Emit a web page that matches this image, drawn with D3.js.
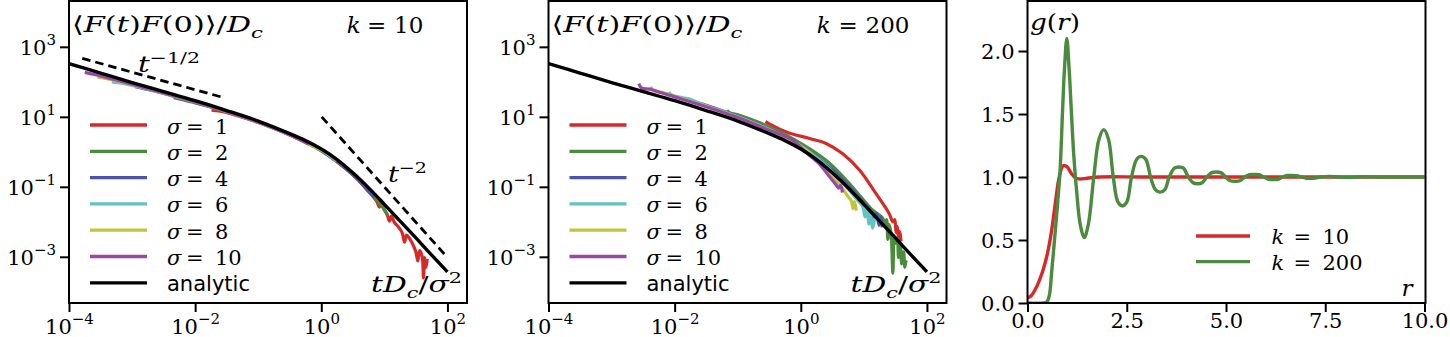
<!DOCTYPE html>
<html>
<head>
<meta charset="utf-8">
<script src="https://cdn.jsdelivr.net/npm/d3@7"></script>
<style>
	body { margin: 0; background: #fff; }
	svg { display: block; }
	text { font-family: "DejaVu Serif", serif; fill: #000; }
	text.sans { font-family: "DejaVu Sans", sans-serif; }
</style>
</head>
<body>
<svg width="1450" height="337"></svg>
<script>
// ---- data (log10 exponents for the two log-log panels) ----
const xTickExp = [-4, -2, 0, 2];
const yTickExp = [-3, -1, 1, 3];
const rTicks = [0, 2.5, 5, 7.5, 10];
const gTicks = [0, 0.5, 1, 1.5, 2];

const sigmaLabels = ["1", "2", "4", "6", "8", "10"];
const sigmaColors = ["#d62a28", "#4a8b3e", "#4a55a8", "#62c3c3", "#c3c33c", "#9a48a6"];

// [log10(t Dc/sigma^2), log10(<F(t)F(0)>/Dc)]
const analytic = [[-4, 2.52], [-3.5, 2.25], [-3, 1.98], [-2.5, 1.72], [-2, 1.46], [-1.5, 1.18], [-1, 0.88], [-0.5, 0.52], [-0.25, 0.32], [0, 0.08], [0.25, -0.22], [0.5, -0.6], [0.75, -1.03], [1, -1.5], [1.25, -1.98], [1.5, -2.46], [1.75, -2.95], [2, -3.43]];

const guideHalf = [[-3.79, 2.67], [-1.55, 1.55]];
const guideTwo = [[0.006, 1.0], [1.99, -3.0]];

const k10s1 = [[-1.74, 1.19], [-1.6, 1.16], [-1.4, 1.07], [-1.2, 0.96], [-1, 0.84], [-0.5, 0.48], [0, 0.03], [0.5, -0.66], [0.75, -1.14], [0.88, -1.42], [0.92, -1.58], [0.95, -1.48], [1.0, -1.66], [1.05, -1.82], [1.08, -1.98], [1.11, -1.84], [1.16, -2.02], [1.22, -2.14], [1.28, -2.3], [1.32, -2.58], [1.35, -2.38], [1.4, -2.48], [1.45, -2.64], [1.5, -2.86], [1.53, -3.12], [1.56, -2.82], [1.6, -3.0], [1.62, -3.6], [1.64, -3.02], [1.66, -3.3], [1.68, -3.06]];
const k10s2 = [[-2.34, 1.55], [-2.2, 1.49], [-2, 1.4], [-1.8, 1.3], [-1.5, 1.14], [-1, 0.85], [-0.5, 0.49], [0, 0.04], [0.5, -0.64], [0.75, -1.1], [0.9, -1.42], [1.0, -1.65], [1.05, -1.8]];
const k10s4 = [[-2.95, 1.86], [-2.8, 1.8], [-2.6, 1.72], [-2.4, 1.62], [-2, 1.42], [-1.5, 1.15], [-1, 0.85], [-0.5, 0.49], [0, 0.05], [0.3, -0.33], [0.6, -0.83], [0.85, -1.3]];
const k10s6 = [[-3.32, 2.0], [-3.15, 1.96], [-3, 1.9], [-2.8, 1.81], [-2.5, 1.67], [-2, 1.43], [-1.5, 1.15], [-1, 0.85], [-0.5, 0.49], [0, 0.05], [0.24, -0.26]];
const k10s8 = [[-3.55, 2.14], [-3.4, 2.09], [-3.2, 2.01], [-3, 1.92], [-2.5, 1.68], [-2, 1.43], [-1.5, 1.15], [-1, 0.85], [-0.5, 0.49], [0, 0.05]];
const k10s10 = [[-3.75, 2.27], [-3.6, 2.21], [-3.4, 2.12], [-3.2, 2.03], [-3, 1.93], [-2.5, 1.68], [-2, 1.43], [-1.5, 1.15], [-1, 0.85], [-0.5, 0.49], [-0.2, 0.22]];

const k200s1 = [[-0.56, 0.86], [-0.5, 0.8], [-0.23, 0.57], [0.14, 0.38], [0.4, 0.24], [0.66, -0.05], [0.93, -0.52], [1.19, -1.19], [1.4, -1.76], [1.46, -2.0], [1.49, -1.94], [1.51, -2.3], [1.53, -2.14], [1.55, -2.5], [1.57, -2.28], [1.59, -2.56]];
const k200s2 = [[-1.17, 1.19], [-1.13, 1.12], [-1, 1.06], [-0.65, 0.83], [-0.13, 0.38], [0.4, -0.24], [0.72, -0.81], [0.93, -1.24], [1.14, -1.67], [1.3, -1.9], [1.33, -2.12], [1.36, -1.94], [1.38, -2.5], [1.4, -2.08], [1.43, -2.32], [1.46, -3.47], [1.48, -2.4], [1.5, -2.62], [1.53, -2.46], [1.55, -3.02], [1.58, -2.7], [1.6, -3.2], [1.63, -2.86], [1.65, -3.3], [1.67, -3.1]];
const k200s4 = [[-1.78, 1.53], [-1.74, 1.46], [-1.5, 1.33], [-1, 1.01], [-0.5, 0.65], [0, 0.18], [0.5, -0.52], [0.8, -1.06], [1.0, -1.46], [1.1, -1.66], [1.15, -1.96], [1.2, -1.76], [1.24, -2.1], [1.27, -1.86], [1.29, -2.16]];
const k200s6 = [[-2.09, 1.71], [-2.05, 1.63], [-1.8, 1.52], [-1.5, 1.32], [-1, 1.0], [-0.5, 0.64], [0, 0.17], [0.4, -0.4], [0.7, -0.96], [0.9, -1.38], [0.98, -1.56], [1.02, -1.86], [1.05, -1.6], [1.08, -2.06], [1.1, -1.72], [1.14, -2.18], [1.17, -1.9]];
const k200s8 = [[-2.38, 1.86], [-2.34, 1.76], [-2.2, 1.7], [-2, 1.59], [-1.5, 1.3], [-1, 0.99], [-0.5, 0.63], [0, 0.16], [0.3, -0.3], [0.5, -0.7], [0.65, -1.02], [0.75, -1.28], [0.8, -1.4], [0.83, -1.62], [0.85, -1.42], [0.88, -1.68]];
const k200s10 = [[-2.57, 1.95], [-2.52, 1.82], [-2.4, 1.79], [-2.2, 1.68], [-2, 1.57], [-1.5, 1.29], [-1, 0.98], [-0.5, 0.62], [-0.13, 0.33], [0.1, -0.04], [0.3, -0.36], [0.45, -0.7], [0.55, -0.92], [0.6, -1.04], [0.63, -0.96], [0.66, -1.16]];

// g(r)
const rK10 = [0, 0.1, 0.2, 0.3, 0.4, 0.5, 0.6, 0.7, 0.8, 0.9, 1.0, 1.1, 1.2, 1.3, 1.5, 1.8, 3, 10];
const gK10 = [0.04, 0.06, 0.11, 0.18, 0.27, 0.39, 0.56, 0.79, 1.0, 1.09, 1.08, 1.03, 0.995, 0.985, 0.99, 1.0, 1.0, 1.0];
const rK200 = [0, 0.4, 0.49, 0.55, 0.61, 0.68, 0.74, 0.82, 0.88, 0.93, 0.99, 1.05, 1.1, 1.16, 1.24, 1.33, 1.43, 1.53, 1.67, 1.8, 1.92, 2.04, 2.16, 2.28, 2.39, 2.5, 2.62, 2.75, 2.86, 2.98, 3.1, 3.22, 3.34, 3.46, 3.57, 3.7, 3.81, 3.93, 4.05, 4.17, 4.28, 4.4, 4.52, 4.64, 4.75, 4.87, 4.99, 5.11, 5.23, 5.35, 5.47, 5.59, 5.71, 5.83, 5.95, 6.07, 6.19, 6.31, 6.43, 6.55, 6.66, 6.78, 6.9, 7.02, 7.13, 7.25, 7.37, 7.6, 7.84, 8.08, 8.3, 8.55, 8.8, 10];
const gK200 = [0, 0, 0.01, 0.06, 0.25, 0.5, 0.72, 1.05, 1.5, 1.85, 2.1, 1.85, 1.55, 1.2, 0.88, 0.62, 0.52, 0.62, 1.0, 1.3, 1.376, 1.3, 1.0, 0.8, 0.77, 0.8, 1.0, 1.14, 1.164, 1.14, 1.0, 0.9, 0.88, 0.9, 1.0, 1.07, 1.08, 1.07, 1.0, 0.955, 0.947, 0.955, 1.0, 1.035, 1.04, 1.035, 1.0, 0.97, 0.966, 0.97, 1.0, 1.018, 1.02, 1.018, 1.0, 0.982, 0.98, 0.982, 1.0, 1.012, 1.013, 1.01, 1.0, 0.99, 0.99, 0.992, 1.0, 1.005, 1.0, 0.997, 1.0, 1.002, 1.0, 1.0];

// ---- layout ----
const W = 398, H = 302, TOP = 1;
const panelLeft = [69, 548.5, 1027.5];
const svg = d3.select("svg");

const xLog = d3.scaleLog().domain([1e-4, 10 ** 2.31]).range([0, W]);
const yLog = d3.scaleLog().domain([10 ** -4.32, 10 ** 4.31]).range([H, 0]);
const xLin = d3.scaleLinear().domain([0, 10]).range([0, W - 1]);
const yLin = d3.scaleLinear().domain([0, 2.397]).range([H, 0]);

const logLine = d3.line()
	.x(d => xLog(10 ** d[0]))
	.y(d => yLog(10 ** d[1]))
	.curve(d3.curveCatmullRom.alpha(0.5));

const linLine = d3.line()
	.x(d => xLin(d[0]))
	.y(d => yLin(d[1]))
	.curve(d3.curveCatmullRom.alpha(0.5));

const expText = e => (e < 0 ? "\u2212" : "") + Math.abs(e);

function makePanel(i) {
	const g = svg.append("g").attr("transform", `translate(${panelLeft[i]},${TOP})`);
	svg.append("defs").append("clipPath").attr("id", "clip" + i)
		.append("rect").attr("width", W).attr("height", H);
	const plot = g.append("g").attr("clip-path", `url(#clip${i})`);
	return [g, plot];
}

function styleAxis(ax) {
	ax.select(".domain").remove();
	ax.selectAll(".tick line").attr("stroke-width", 2);
}

function logAxes(g) {
	const gx = g.append("g")
		.attr("transform", `translate(0,${H})`)
		.call(d3.axisBottom(xLog).tickValues(xTickExp.map(e => 10 ** e)).tickSize(9).tickFormat(""));
	styleAxis(gx);
	gx.selectAll(".tick text").each(function(d) {
		const t = d3.select(this).attr("y", 30.5).attr("dy", null).attr("font-size", 21).text(null);
		t.append("tspan").text("10");
		t.append("tspan").attr("font-size", 15).attr("dy", -10).text(expText(Math.round(Math.log10(d))));
	});

	const gy = g.append("g")
		.call(d3.axisLeft(yLog).tickValues(yTickExp.map(e => 10 ** e)).tickSize(9).tickFormat(""));
	styleAxis(gy);
	gy.selectAll(".tick text").each(function(d) {
		const t = d3.select(this).attr("x", -13).attr("dy", 7.5).attr("font-size", 21).text(null);
		t.append("tspan").text("10");
		t.append("tspan").attr("font-size", 15).attr("dy", -10).text(expText(Math.round(Math.log10(d))));
	});
}

// text made of pieces: [string, italic, level]  level: 1 sup, -1 sub
function mathText(g, x, y, parts, size, width) {
	const t = g.append("text").attr("x", x).attr("y", y).attr("font-size", size);
	let shift = 0;
	parts.forEach(([s, it, lvl]) => {
		const target = lvl === 1 ? -0.42 * size : lvl === -1 ? 0.28 * size : 0;
		const ts = t.append("tspan").attr("dy", target - shift).text(s);
		if (it) ts.attr("font-style", "italic");
		if (lvl) ts.attr("font-size", size * 0.7);
		shift = target;
	});
	if (width)
		t.attr("textLength", width).attr("lengthAdjust", "spacingAndGlyphs");
	return t;
}

// "lhs = rhs" with TeX-like spacing
function eqText(g, x, y, lhs, rhs, xEq, xRhs, size = 21) {
	const t = g.append("text").attr("y", y).attr("font-size", size);
	t.append("tspan").attr("x", x).attr("font-style", "italic").text(lhs);
	t.append("tspan").attr("x", xEq).text("=");
	t.append("tspan").attr("x", xRhs).text(rhs);
}

const corrLabel = [["\u27E8", 0], ["F", 1], ["(", 0], ["t", 1], [")", 0], ["F", 1], ["(0)\u27E9/", 0], ["D", 1], ["c", 1, -1]];
const timeLabel = [["t", 1], ["D", 1], ["c", 1, -1], ["/", 0], ["\u03C3", 1], ["2", 0, 1]];

function legend(g) {
	const rows = sigmaLabels.map((s, j) => ({ label: s, color: sigmaColors[j] }));
	rows.push({ label: null, color: "#000" });
	rows.forEach((r, j) => {
		const yy = 125 + j * 26.3 - TOP;
		g.append("line").attr("x1", 21).attr("x2", 78).attr("y1", yy).attr("y2", yy)
			.attr("stroke", r.color).attr("stroke-width", 3.3);
		if (r.label)
			eqText(g, 98, yy + 8.5, "\u03C3", r.label, 117, 146);
		else
			g.append("text").attr("class", "sans").attr("x", 98).attr("y", yy + 8.5).attr("font-size", 21).text("analytic");
	});
}

function logPanel(i, series, kLabel, kPos) {
	const [g, plot] = makePanel(i);
	logAxes(g);
	series.forEach((s, j) => {
		plot.append("path").attr("d", logLine(s)).attr("fill", "none")
			.attr("stroke", sigmaColors[j]).attr("stroke-width", 3.2).attr("stroke-linejoin", "round");
	});
	plot.append("path").attr("d", logLine(analytic)).attr("fill", "none")
		.attr("stroke", "#000").attr("stroke-width", 3.4);
	mathText(g, 3, 32 - TOP, corrLabel, 22, 191);
	eqText(g, kPos[0], 33 - TOP, "k", kLabel, kPos[1], kPos[2], 23);
	mathText(g, W - 96, 292 - TOP, timeLabel, 22, 91);
	legend(g);
	return [g, plot];
}

// panel 1: k = 10
const [g1, plot1] = logPanel(0, [k10s1, k10s2, k10s4, k10s6, k10s8, k10s10], "10", [277.7, 298, 325]);
[guideHalf, guideTwo].forEach(gd => {
	plot1.append("path").attr("d", d3.line().x(d => xLog(10 ** d[0])).y(d => yLog(10 ** d[1]))(gd))
		.attr("fill", "none").attr("stroke", "#000").attr("stroke-width", 2.8).attr("stroke-dasharray", "8.5,5");
});
mathText(g1, 69, 72 - TOP, [["t", 1], ["\u22121/2", 0, 1]], 22, 62);
mathText(g1, 319, 182 - TOP, [["t", 1], ["\u22122", 0, 1]], 22, 39);

// panel 2: k = 200
logPanel(1, [k200s1, k200s2, k200s4, k200s6, k200s8, k200s10], "200", [268.2, 290, 317]);

// panel 3: g(r)
const [g3, plot3] = makePanel(2);
const gx3 = g3.append("g").attr("transform", `translate(0,${H})`)
	.call(d3.axisBottom(xLin).tickValues(rTicks).tickSize(9).tickFormat(d3.format(".1f")));
styleAxis(gx3);
gx3.selectAll(".tick text").attr("y", 25).attr("dy", null).attr("font-size", 21);
const gy3 = g3.append("g")
	.call(d3.axisLeft(yLin).tickValues(gTicks).tickSize(9).tickFormat(d3.format(".1f")));
styleAxis(gy3);
gy3.selectAll(".tick text").attr("x", -13).attr("dy", 7.5).attr("font-size", 21);

const gSeries = [[d3.zip(rK10, gK10), sigmaColors[0]], [d3.zip(rK200, gK200), sigmaColors[1]]];
gSeries.forEach(([pts, c]) => {
	plot3.append("path").attr("d", linLine(pts)).attr("fill", "none")
		.attr("stroke", c).attr("stroke-width", 3.4).attr("stroke-linejoin", "round");
});
mathText(g3, 2.5, 30 - TOP, [["g", 1], ["(", 0], ["r", 1], [")", 0]], 22, 50);
mathText(g3, 374, 296 - TOP, [["r", 1]], 23);
[["10", 236], ["200", 261.7]].forEach(([lab, yy], j) => {
	g3.append("line").attr("x1", 168.5).attr("x2", 222.5).attr("y1", yy - TOP).attr("y2", yy - TOP)
		.attr("stroke", gSeries[j][1]).attr("stroke-width", 3.3);
	eqText(g3, 244, yy - TOP + 8, "k", lab, 266, 295);
});

// frames on top
panelLeft.forEach(px => {
	svg.append("rect").attr("x", px).attr("y", TOP).attr("width", W).attr("height", H)
		.attr("fill", "none").attr("stroke", "#000").attr("stroke-width", 2);
});
</script>
</body>
</html>
